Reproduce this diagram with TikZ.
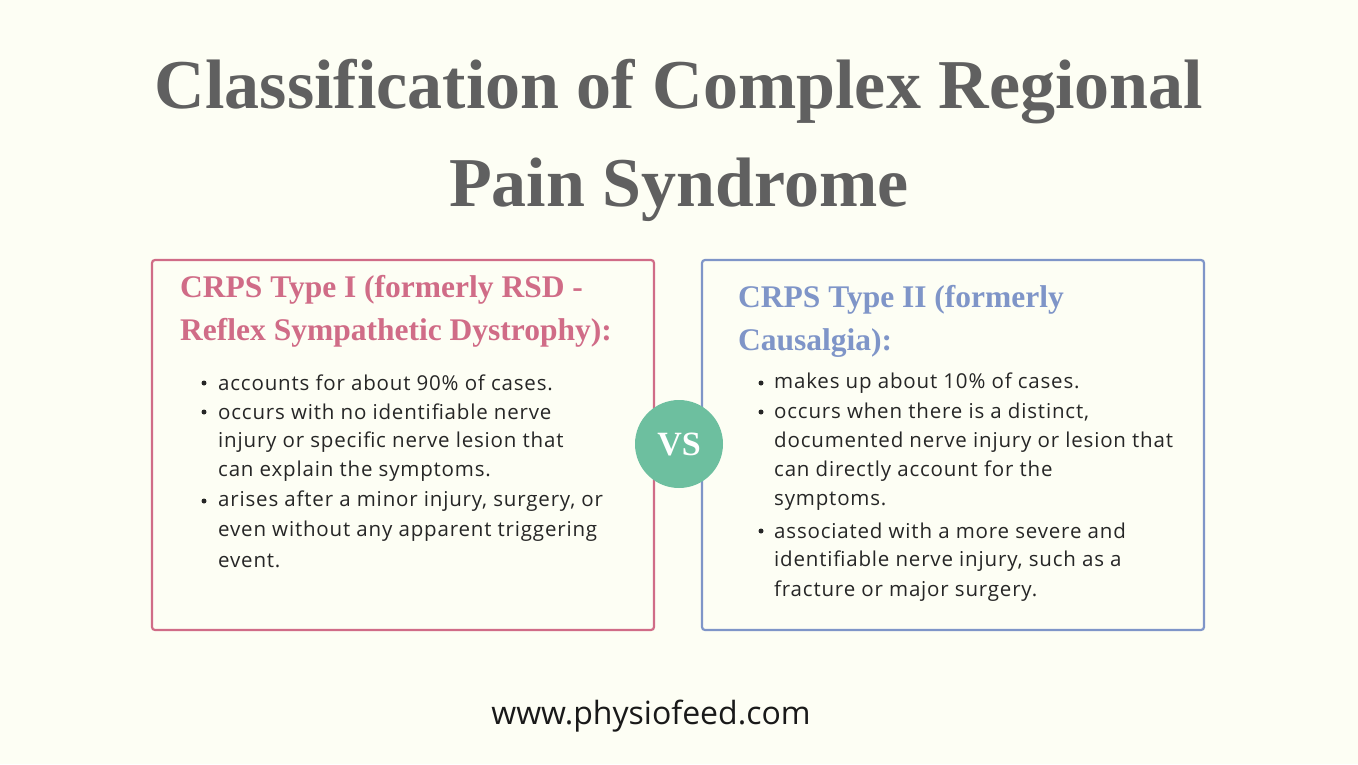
\documentclass[tikz,border=0pt]{standalone}
\usepackage{fontspec}
\setmainfont{Liberation Serif}
\newfontfamily\bodyf[LetterSpace=4]{Open Sans}
\newfontfamily\footf{Open Sans}
\definecolor{bg}{HTML}{FDFEF4}
\definecolor{ttl}{HTML}{606060}
\definecolor{pinkc}{HTML}{D06C87}
\definecolor{bluec}{HTML}{7F95C8}
\definecolor{greenc}{HTML}{6DBF9F}
\begin{document}
\begin{tikzpicture}[x=1pt,y=-1pt,
  ttlf/.style={text=ttl,font=\fontsize{70}{78}\selectfont\bfseries,anchor=center,inner sep=0},
  hd/.style={font=\fontsize{31.5}{36}\selectfont\bfseries,anchor=west,inner sep=0},
  ln/.style={font=\bodyf\fontsize{20.5}{24}\selectfont,anchor=west,inner sep=0,text=black!85},
  dot/.style={circle,fill=black!85,inner sep=0,minimum size=5pt}]
\fill[bg] (0,0) rectangle (1358,764);
\useasboundingbox (0,0) rectangle (1358,764);
\node[ttlf] (t1) at (679,92) {Classification of Complex Regional};
\node[ttlf] (t2) at (679,190) {Pain Syndrome};
\draw[pinkc,line width=2.2pt,rounded corners=3pt] (152,260) rectangle (654,630);
\draw[bluec,line width=2.2pt,rounded corners=3pt] (702,260) rectangle (1204,630);
\node[circle,fill=greenc,minimum size=88pt,inner sep=0,text=white,font=\fontsize{34}{38}\selectfont\bfseries] (vs) at (679,444) {VS};
\node[hd,text=pinkc] (lh1) at (180,290) {CRPS Type I (formerly RSD -};
\node[hd,text=pinkc] (lh2) at (180,333) {Reflex Sympathetic Dystrophy):};
\node[hd,text=bluec] (rh1) at (738,300) {CRPS Type II (formerly};
\node[hd,text=bluec] (rh2) at (738,343) {Causalgia):};
% left
\node[dot] (ld1) at (204,383) {};
\node[dot] (ld2) at (204,412) {};
\node[dot] (ld3) at (204,501) {};
\node[ln] (l1) at (218,383) {accounts for about 90\% of cases.};
\node[ln] (l2) at (218,412) {occurs with no identifiable nerve};
\node[ln] (l3) at (218,442) {injury or specific nerve lesion that};
\node[ln] (l4) at (218,471) {can explain the symptoms.};
\node[ln] (l5) at (218,501) {arises after a minor injury, surgery, or};
\node[ln] (l6) at (218,531) {even without any apparent triggering};
\node[ln] (l7) at (218,561) {event.};
% right
\node[dot] (rd1) at (761,383) {};
\node[dot] (rd2) at (761,412) {};
\node[dot] (rd3) at (761,531) {};
\node[ln] (r1) at (774,383) {makes up about 10\% of cases.};
\node[ln] (r2) at (774,412) {occurs when there is a distinct,};
\node[ln] (r3) at (774,442) {documented nerve injury or lesion that};
\node[ln] (r4) at (774,471) {can directly account for the};
\node[ln] (r5) at (774,501) {symptoms.};
\node[ln] (r6) at (774,531) {associated with a more severe and};
\node[ln] (r7) at (774,561) {identifiable nerve injury, such as a};
\node[ln] (r8) at (774,591) {fracture or major surgery.};
\node[font=\footf\fontsize{32}{36}\selectfont,text=black!90,inner sep=0] (ft) at (651,716) {www.physiofeed.com};
\end{tikzpicture}
\end{document}
